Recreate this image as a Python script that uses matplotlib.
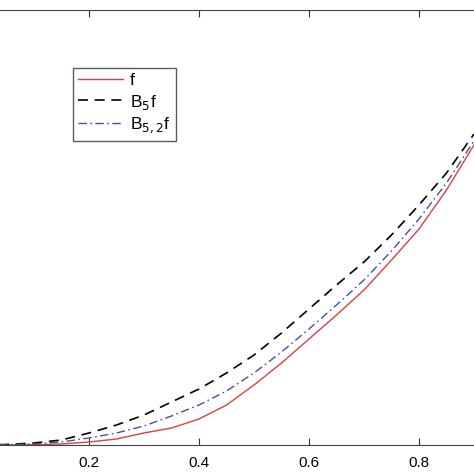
import matplotlib
matplotlib.use("Agg")
import matplotlib.pyplot as plt

plt.rcParams['font.family'] = ['Liberation Sans', 'DejaVu Sans']

# values in pixel-height units (axis height = 435)
x = [0.0, 0.05, 0.1, 0.15, 0.2, 0.25, 0.3, 0.35, 0.4, 0.45, 0.5, 0.55, 0.6, 0.65, 0.7, 0.75, 0.8, 0.85, 0.9]
f_px = [0, 0, 0.3, 1, 3, 6, 12, 17, 26, 40, 60, 82, 106, 130, 155, 185, 216, 255, 300]
b5_px = [0, 0.5, 2, 5, 12, 20, 30, 43, 56, 72, 90, 112, 136, 160, 183, 210, 240, 272, 311]
b52_px = [0, 0.2, 1, 3, 7, 12, 19, 29, 40, 54, 72, 93, 116, 140, 165, 194, 226, 262, 304]
xticks = [0.2, 0.4, 0.6, 0.8]
H = 435.0

fig = plt.figure(figsize=(4.74, 4.74), dpi=100)
ax = fig.add_axes([-21/474, 29/474, 550/474, 435/474])
ax.plot(x, [v/H for v in f_px], color='#d9413e', lw=1.0, label='f')
ax.plot(x, [v/H for v in b5_px], color='black', lw=1.2, ls=(0, (6, 4)), label=r'B$_5$f')
ax.plot(x, [v/H for v in b52_px], color='#4a4f9a', lw=1.0, ls=(0, (6, 2.5, 1.2, 2.5)), label=r'B$_{5,2}$f')
ax.set_xlim(0, 1)
ax.set_ylim(0, 1)
ax.set_xticks(xticks)
ax.set_xticklabels([f"{t:.1f}" for t in xticks], fontsize=11)
ax.set_yticks([])
ax.tick_params(axis='x', direction='in', top=True, length=5, pad=8, color='#333333')
for s in ax.spines.values():
    s.set_color('#444444')
leg = ax.legend(loc='upper left', bbox_to_anchor=(0.155, 0.887), fontsize=12.5,
                frameon=True, fancybox=False, edgecolor='#333333',
                handlelength=2.6, borderpad=0.3, labelspacing=0.25, handletextpad=0.4)
leg.get_frame().set_linewidth(1.0)
fig.savefig('out.png', dpi=100)
